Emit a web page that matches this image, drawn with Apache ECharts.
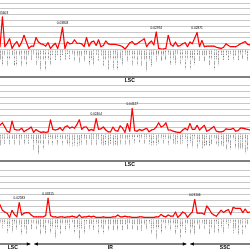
<!DOCTYPE html>
<html>
<head>
<meta charset="utf-8">
<script src="https://cdn.jsdelivr.net/npm/echarts@6/dist/echarts.min.js"></script>
<style>
  html, body { margin: 0; padding: 0; background: #fff; }
  #main { width: 250px; height: 250px; }
</style>
</head>
<body>
<div id="main"></div>
<script>
// nucleotide diversity (Pi) along the plastome, three rows

const regions1 = [
  'trnH-GUG', 'trnH-GUG-psbA', 'psbA', 'psbA-trnK-UUU', 'trnK-UUU', 'matK', 'matK-trnK-UUU', 'trnK-UUU-rps16', 'rps16', 'rps16-trnQ-UUG',
  'trnQ-UUG', 'trnQ-UUG-psbK', 'psbK', 'psbK-psbI', 'psbI', 'psbI-trnS-GCU', 'trnS-GCU', 'trnS-GCU-trnG-UCC', 'trnG-UCC', 'trnG-UCC-trnR-UCU',
  'trnR-UCU', 'trnR-UCU-atpA', 'atpA', 'atpA-atpF', 'atpF', 'atpF-atpH', 'atpH', 'atpH-atpI', 'atpI', 'atpI-rps2',
  'rps2', 'rps2-rpoC2', 'rpoC2', 'rpoC2-rpoC1', 'rpoC1', 'rpoC1-rpoB', 'rpoB', 'rpoB-trnC-GCA', 'trnC-GCA', 'trnC-GCA-petN',
  'petN', 'petN-psbM', 'psbM', 'psbM-trnD-GUC', 'trnD-GUC', 'trnD-GUC-trnY-GUA', 'trnY-GUA', 'trnY-GUA-trnE-UUC', 'trnE-UUC', 'trnE-UUC-trnT-GGU',
  'trnT-GGU', 'trnT-GGU-psbD', 'psbD', 'psbD-psbC', 'psbC', 'psbC-trnS-UGA', 'trnS-UGA', 'trnS-UGA-psbZ', 'psbZ', 'psbZ-trnG-GCC',
  'trnG-GCC', 'trnG-GCC-trnfM-CAU', 'trnfM-CAU', 'trnfM-CAU-rps14', 'rps14', 'rps14-psaB', 'psaB', 'psaB-psaA', 'psaA', 'psaA-ycf3',
  'ycf3', 'ycf3-trnS-GGA', 'trnS-GGA', 'trnS-GGA-rps4', 'rps4', 'rps4-trnT-UGU', 'trnT-UGU', 'trnT-UGU-trnL-UAA', 'trnL-UAA', 'trnL-UAA-trnF-GAA',
  'trnF-GAA', 'trnF-GAA-ndhJ', 'ndhJ', 'ndhJ-ndhK', 'ndhK', 'ndhK-ndhC', 'ndhC', 'ndhC-trnV-UAC', 'trnV-UAC', 'trnV-UAC-trnM-CAU',
  'trnM-CAU', 'trnM-CAU-atpE', 'atpE', 'atpE-atpB', 'atpB', 'atpB-rbcL', 'rbcL', 'rbcL-accD', 'accD', 'accD-psaI',
  'psaI', 'psaI-ycf4', 'ycf4', 'ycf4-cemA', 'cemA'
];
const regions2 = [
  'cemA-petA', 'petA', 'petA-psbJ', 'psbJ', 'psbJ-psbL', 'psbL', 'psbL-psbF', 'psbF', 'psbF-psbE', 'psbE',
  'psbE-petL', 'petL', 'petL-petG', 'petG', 'petG-trnW-CCA', 'trnW-CCA', 'trnW-CCA-trnP-UGG', 'trnP-UGG', 'trnP-UGG-psaJ', 'psaJ',
  'psaJ-rpl33', 'rpl33', 'rpl33-rps18', 'rps18', 'rps18-rpl20', 'rpl20', 'rpl20-rps12', 'rps12', 'rps12-clpP', 'clpP-exon3',
  'clpP-intron2', 'clpP-exon2', 'clpP-intron1', 'clpP-exon1', 'clpP-psbB', 'psbB', 'psbB-psbT', 'psbT', 'psbT-psbN', 'psbN',
  'psbN-psbH', 'psbH', 'psbH-petB', 'petB-exon1', 'petB-intron', 'petB-exon2', 'petB-petD', 'petD-exon1', 'petD-intron', 'petD-exon2',
  'petD-rpoA', 'rpoA', 'rpoA-rps11', 'rps11', 'rps11-rpl36', 'rpl36', 'rpl36-infA', 'infA', 'infA-rps8', 'rps8',
  'rps8-rpl14', 'rpl14', 'rpl14-rpl16', 'rpl16-exon2', 'rpl16-intron', 'rpl16-exon1', 'rpl16-rps3', 'rps3', 'rps3-rpl22', 'rpl22',
  'rpl22-rps19', 'rps19', 'rps19-rpl2', 'rpl2-exon2', 'rpl2-intron', 'rpl2-exon1', 'rpl2-rpl23', 'rpl23', 'rpl23-trnI-CAU', 'trnI-CAU',
  'trnI-CAU-ycf2', 'ycf2', 'ycf2-trnL-CAA', 'trnL-CAA', 'trnL-CAA-ndhB', 'ndhB-exon2', 'ndhB-intron', 'ndhB-exon1', 'ndhB-rps7', 'rps7',
  'rps7-rps12', 'rps12-exon2', 'rps12-intron', 'rps12-exon3', 'rps12-trnV-GAC', 'trnV-GAC', 'trnV-GAC-rrn16', 'rrn16', 'rrn16-trnI-GAU', 'trnI-GAU-exon1',
  'trnI-GAU-intron', 'trnI-GAU-exon2', 'trnI-GAU-trnA-UGC', 'trnA-UGC-exon1', 'trnA-UGC-intron'
];
const regions3 = [
  'rpl2', 'rpl2-rpl23', 'rpl23', 'rpl23-trnI-CAU', 'trnI-CAU', 'trnI-CAU-ycf2', 'ycf2', 'ycf2-ycf15', 'ycf15', 'ycf15-trnL-CAA',
  'trnL-CAA', 'trnL-CAA-ndhB', 'ndhB', 'ndhB-rps7', 'rps7', 'rps7-rps12', 'rps12', 'rps12-trnV-GAC', 'trnV-GAC', 'trnV-GAC-rrn16',
  'rrn16', 'rrn16-trnI-GAU', 'trnI-GAU', 'trnI-GAU-trnA-UGC', 'trnA-UGC', 'trnA-UGC-rrn23', 'rrn23', 'rrn23-rrn4.5', 'rrn4.5', 'rrn4.5-rrn5',
  'rrn5', 'rrn5-trnR-ACG', 'trnR-ACG', 'trnR-ACG-trnN-GUU', 'trnN-GUU', 'trnN-GUU-ycf1', 'ycf1', 'ycf1-ndhF', 'ndhF', 'ndhF-rpl32',
  'rpl32', 'rpl32-trnL-UAG', 'trnL-UAG', 'trnL-UAG-ccsA', 'ccsA', 'ccsA-ndhD', 'ndhD', 'ndhD-psaC', 'psaC', 'psaC-ndhE',
  'ndhE', 'ndhE-ndhG', 'ndhG', 'ndhG-ndhI', 'ndhI', 'ndhI-ndhA', 'ndhA', 'ndhA-ndhH', 'ndhH', 'ndhH-rps15',
  'rps15', 'rps15-ycf1', 'ycf1', 'ycf1-trnN-GUU', 'trnN-GUU', 'trnN-GUU-trnR-ACG', 'trnR-ACG', 'trnR-ACG-rrn5', 'rrn5', 'rrn5-rrn4.5',
  'rrn4.5', 'rrn4.5-rrn23', 'rrn23', 'rrn23-trnA-UGC', 'trnA-UGC', 'trnA-UGC-trnI-GAU', 'trnI-GAU', 'trnI-GAU-rrn16', 'rrn16', 'rrn16-trnV-GAC',
  'trnV-GAC', 'trnV-GAC-rps12', 'rps12', 'rps12-rps7', 'rps7', 'rps7-ndhB', 'ndhB', 'ndhB-trnL-CAA', 'trnL-CAA', 'trnL-CAA-ycf2',
  'ycf2', 'ycf2-trnI-CAU', 'trnI-CAU', 'trnI-CAU-rpl23', 'rpl23', 'rpl23-rpl2', 'rpl2', 'rpl2-trnH-GUG', 'trnH-GUG', 'trnH-GUG-psbA',
  'psbA', 'psbA-trnK-UUU', 'trnK-UUU', 'matK', 'matK-rps16'
];

const pi1 = [
  0.004, 0.05603, 0.004, 0.010, 0.018, 0.001, 0.008, 0.013, 0.004, 0.012,
  0.024, 0.012, 0.001, 0.005, 0.005, 0.020, 0.012, 0.009, 0.008, 0.005,
  0.011, 0.001, 0.006, 0.010, 0.001, 0.015, 0.03803, 0.001, 0.012, 0.009,
  0.010, 0.016, 0.010, 0.010, 0.009, 0.004, 0.020, 0.005, 0.012, 0.014,
  0.006, 0.016, 0.004, 0.006, 0.014, 0.009, 0.008, 0.008, 0.008, 0.007,
  0.006, 0.004, 0.000, 0.005, 0.011, 0.013, 0.008, 0.009, 0.012, 0.015,
  0.018, 0.004, 0.010, 0.014, 0.007, 0.02974, 0.001, 0.000, 0.000, 0.001,
  0.024, 0.008, 0.005, 0.012, 0.005, 0.006, 0.009, 0.011, 0.004, 0.012,
  0.009, 0.019, 0.02871, 0.004, 0.015, 0.004, 0.005, 0.005, 0.005, 0.005,
  0.003, 0.002, 0.001, 0.003, 0.009, 0.006, 0.004, 0.004, 0.004, 0.006,
  0.009, 0.011, 0.013, 0.008, 0.007
];
const pi2 = [
  0.013, 0.017, 0.010, 0.003, 0.001, 0.020, 0.006, 0.005, 0.005, 0.008,
  0.002, 0.005, 0.007, 0.010, 0.001, 0.006, 0.003, 0.001, 0.002, 0.001,
  0.002, 0.022, 0.006, 0.005, 0.006, 0.009, 0.004, 0.010, 0.012, 0.008,
  0.010, 0.008, 0.014, 0.022, 0.006, 0.010, 0.010, 0.004, 0.006, 0.004,
  0.02404, 0.006, 0.007, 0.010, 0.005, 0.002, 0.002, 0.010, 0.004, 0.003,
  0.012, 0.008, 0.001, 0.016, 0.003, 0.04127, 0.004, 0.003, 0.006, 0.004,
  0.006, 0.008, 0.002, 0.005, 0.006, 0.010, 0.017, 0.010, 0.012, 0.017,
  0.005, 0.005, 0.003, 0.002, 0.001, 0.001, 0.005, 0.008, 0.005, 0.016,
  0.006, 0.006, 0.013, 0.005, 0.009, 0.013, 0.003, 0.005, 0.008, 0.011,
  0.003, 0.002, 0.002, 0.003, 0.007, 0.006, 0.006, 0.008, 0.003, 0.004,
  0.008, 0.008, 0.007, 0.006, 0.005
];
const pi3 = [
  0.022, 0.013, 0.010, 0.008, 0.001, 0.013, 0.006, 0.002, 0.02583, 0.005,
  0.008, 0.009, 0.009, 0.005, 0.002, 0.002, 0.002, 0.002, 0.002, 0.004,
  0.03315, 0.004, 0.002, 0.002, 0.001, 0.002, 0.002, 0.001, 0.002, 0.002,
  0.003, 0.002, 0.001, 0.005, 0.001, 0.002, 0.002, 0.003, 0.002, 0.003,
  0.001, 0.001, 0.001, 0.002, 0.001, 0.001, 0.001, 0.002, 0.002, 0.005,
  0.002, 0.002, 0.003, 0.002, 0.002, 0.001, 0.001, 0.001, 0.002, 0.002,
  0.001, 0.001, 0.001, 0.001, 0.001, 0.002, 0.002, 0.006, 0.003, 0.002,
  0.005, 0.003, 0.003, 0.010, 0.001, 0.005, 0.010, 0.008, 0.001, 0.006,
  0.010, 0.03106, 0.008, 0.008, 0.008, 0.006, 0.020, 0.015, 0.008, 0.005,
  0.003, 0.008, 0.013, 0.009, 0.012, 0.014, 0.006, 0.018, 0.016, 0.016,
  0.016, 0.009, 0.015, 0.009, 0.010
];

// points that carry a value label
const peaks1 = [1, 26, 65, 82];
const peaks2 = [40, 55];
const peaks3 = [8, 20, 81];

// genome parts under each row: name, first and last region index (rows run past the picture)
const parts1 = [['LSC', -3, 111]];
const parts2 = [['LSC', -3, 111]];
const parts3 = [['LSC', -2, 12.6], ['IR', 14.3, 77.5], ['SSC', 79.2, 108]];

const FONT = 'Liberation Sans, Arial, sans-serif';

const rows = [
  { cats: regions1, vals: pi1, peaks: peaks1, parts: parts1, top: 3, height: 46, bracket: 76 },
  { cats: regions2, vals: pi2, peaks: peaks2, parts: parts2, top: 85, height: 48, bracket: 160 },
  { cats: regions3, vals: pi3, peaks: peaks3, parts: parts3, top: 170, height: 48, bracket: 243 }
];

const grid = [], xAxis = [], yAxis = [], series = [];

rows.forEach(function (row) {
  const g = grid.length;
  grid.push({ left: 0, right: 0, top: row.top, height: row.height, outerBoundsMode: 'none' });
  xAxis.push({
    gridIndex: g, type: 'category', data: row.cats, boundaryGap: false,
    axisLine: { show: false }, axisTick: { show: false }, axisLabel: { show: false },
    splitLine: { show: false }
  });
  yAxis.push({
    gridIndex: g, type: 'value', min: 0, max: 0.08, interval: 0.01,
    axisLabel: { show: false }, axisLine: { show: false }, axisTick: { show: false },
    splitLine: { lineStyle: { color: '#c8c8c8', width: 1 } }
  });
  series.push({
    type: 'line', xAxisIndex: g, yAxisIndex: g,
    showSymbol: true, symbol: 'circle', symbolSize: 1,
    itemStyle: { color: '#ff0000' },
    lineStyle: { color: '#ff0000', width: 1.2 },
    label: { show: false },
    data: row.vals.map(function (v, i) {
      if (row.peaks.indexOf(i) < 0) return v;
      return {
        value: v,
        label: {
          show: true, position: 'top', distance: 2, fontSize: 3.2, color: '#000', fontFamily: FONT,
          formatter: function (p) { return p.value.toFixed(5); }
        }
      };
    }),
    animation: false
  });

  // region names, written upward under each point
  series.push({
    type: 'custom', xAxisIndex: g, yAxisIndex: g, silent: true, animation: false, clip: false,
    data: row.cats.map(function (c, i) { return [i, 0]; }),
    renderItem: function (params, api) {
      const p = api.coord([api.value(0), 0]);
      return {
        type: 'text', x: p[0], y: p[1] + 1.5, rotation: Math.PI / 2,
        style: {
          text: row.cats[params.dataIndex], fill: '#000', font: '2.2px ' + FONT,
          align: 'right', verticalAlign: 'middle'
        }
      };
    }
  });

  // bracket row: same x mapping as the plot above
  const b = grid.length;
  grid.push({ left: 0, right: 0, top: row.bracket, height: 1, outerBoundsMode: 'none' });
  xAxis.push({ gridIndex: b, type: 'value', min: 0, max: row.cats.length - 1, show: false });
  yAxis.push({ gridIndex: b, type: 'value', min: 0, max: 1, show: false });
  series.push({
    type: 'custom', xAxisIndex: b, yAxisIndex: b, silent: true, animation: false,
    data: row.parts.map(function (p) { return [p[1], p[2]]; }),
    renderItem: function (params, api) {
      const s = api.coord([api.value(0), 0]);
      const e = api.coord([api.value(1), 0]);
      const name = row.parts[params.dataIndex][0];
      return {
        type: 'group',
        children: [
          { type: 'line', shape: { x1: s[0], y1: s[1], x2: e[0], y2: e[1] }, style: { stroke: '#000', lineWidth: 1 } },
          { type: 'polygon', shape: { points: [[s[0], s[1]], [s[0] + 3.5, s[1] - 1.8], [s[0] + 3.5, s[1] + 1.8]] }, style: { fill: '#000' } },
          { type: 'polygon', shape: { points: [[e[0], e[1]], [e[0] - 3.5, e[1] - 1.8], [e[0] - 3.5, e[1] + 1.8]] }, style: { fill: '#000' } },
          {
            type: 'text', x: (s[0] + e[0]) / 2, y: s[1] + 1.5,
            style: { text: name, fill: '#000', font: 'bold 5px ' + FONT, align: 'center', verticalAlign: 'top' }
          }
        ]
      };
    }
  });
});

const chart = echarts.init(document.getElementById('main'), null, { renderer: 'canvas' });
chart.setOption({
  backgroundColor: '#fff',
  animation: false,
  grid: grid,
  xAxis: xAxis,
  yAxis: yAxis,
  series: series
});
</script>
</body>
</html>
